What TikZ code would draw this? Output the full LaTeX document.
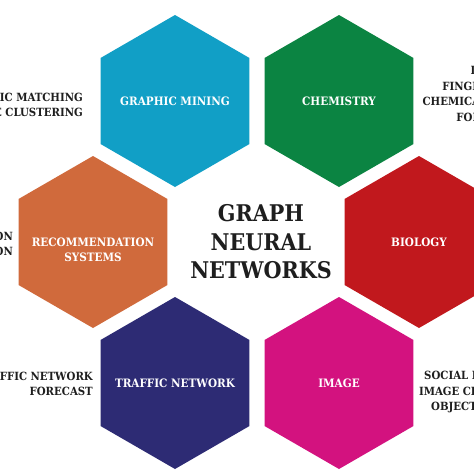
\documentclass[tikz,border=0pt]{standalone}
\usepackage{fontspec}
\setmainfont{DejaVu Serif Condensed}
\usetikzlibrary{shapes.geometric}
\definecolor{miningblue}{HTML}{119FC6}
\definecolor{chemgreen}{HTML}{0B8442}
\definecolor{recorange}{HTML}{D06A3C}
\definecolor{biored}{HTML}{C1181D}
\definecolor{trafficnavy}{HTML}{2D2B74}
\definecolor{imagepink}{HTML}{D3127F}
\definecolor{inkdark}{HTML}{1E1E1E}
\tikzset{
  hexbox/.style={regular polygon, regular polygon sides=6, shape border rotate=30, minimum size=172pt, inner sep=0pt, outer sep=0pt},
  hexlabel/.style={inner sep=0pt, text=white, align=center, font=\bfseries\fontsize{11.6}{14.5}\selectfont},
  sidenote/.style={inner sep=0pt, text=inkdark, font=\bfseries\fontsize{11.3}{15.5}\selectfont},
  titlenote/.style={inner sep=0pt, text=inkdark, align=center, font=\bfseries\fontsize{23}{28.5}\selectfont}
}
\begin{document}
\begin{tikzpicture}[x=1pt, y=-1pt]
  \useasboundingbox[fill=white] (0,0) rectangle (474,474);
  % the six application hexagons
  \node[hexbox, fill=miningblue, label={[hexlabel]center:GRAPHIC MINING}] (mining) at (175,101) {};
  \node[hexbox, fill=chemgreen, label={[hexlabel]center:CHEMISTRY}] (chem) at (339,101) {};
  \node[hexbox, fill=recorange, label={[hexlabel, yshift=-8pt]center:RECOMMENDATION\\SYSTEMS}] (recsys) at (93,242) {};
  \node[hexbox, fill=biored, label={[hexlabel]center:BIOLOGY}] (bio) at (419,242) {};
  \node[hexbox, fill=trafficnavy, label={[hexlabel]center:TRAFFIC NETWORK}] (traffic) at (175,383) {};
  \node[hexbox, fill=imagepink, label={[hexlabel]center:IMAGE}] (image) at (339,383) {};
  % centre title
  \node[titlenote] (gnn) at (261,242) {GRAPH\\NEURAL\\NETWORKS};
  % notes beside the hexagons
  \node[sidenote, align=right, anchor=east] (miningnote) at (83,105) {GRAPHIC MATCHING\\NODE CLUSTERING};
  \node[sidenote, align=right, anchor=east] (recnote) at (13,244) {USER RECOMMENDATION\\PERSONALIZATION};
  \node[sidenote, align=right, anchor=east] (trafficnote) at (93,384) {TRAFFIC NETWORK\\FORECAST};
  \node[sidenote, align=center] (chemnote) at (488,94) {DRUG\\FINGERPRINTS\\CHEMICAL REACTION\\FORECAST};
  \node[sidenote, align=center] (imagenote) at (491,392) {SOCIAL FORECASTING\\IMAGE CLASSIFICATION\\OBJECT DETECTION};
\end{tikzpicture}
\end{document}
